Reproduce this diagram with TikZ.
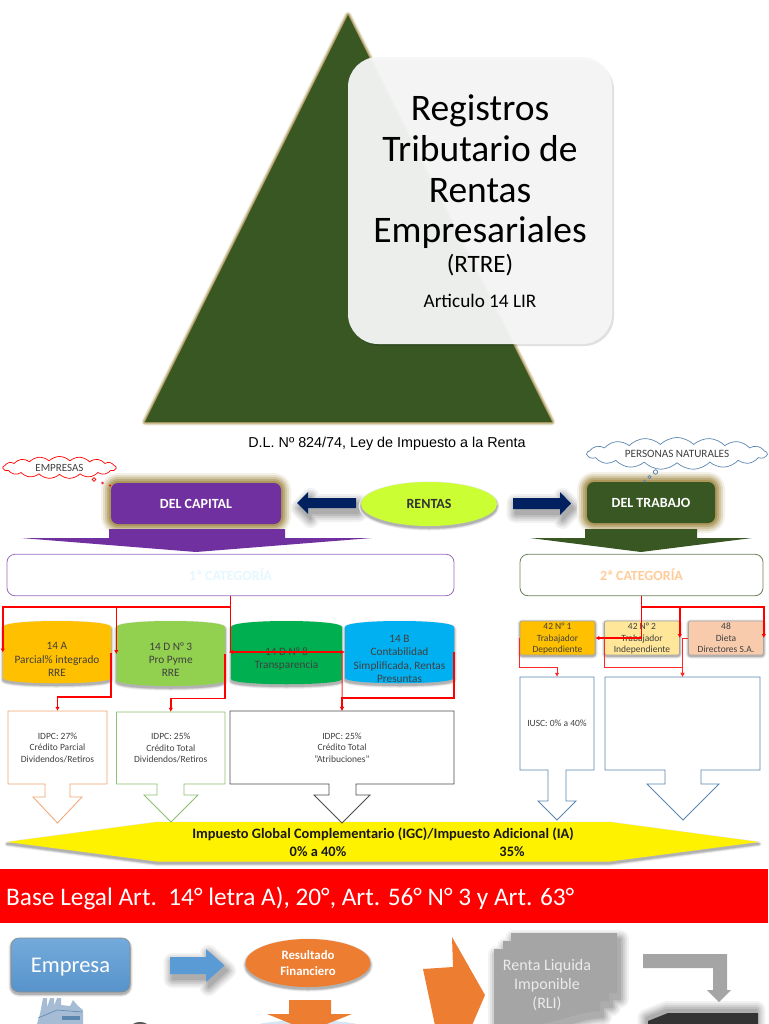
\documentclass[tikz,border=0pt]{standalone}
\usepackage{fontspec}
\setmainfont{Carlito}
\newfontfamily\arialfont{Liberation Sans}
\usepackage{xcolor}
\usetikzlibrary{calc,shapes.geometric,shapes.symbols,arrows.meta}

\definecolor{verdeosc}{HTML}{385723}
\definecolor{oro}{HTML}{A38C48}
\definecolor{morado}{HTML}{7030A0}
\definecolor{azulosc}{HTML}{002060}
\definecolor{lima}{HTML}{CCFF33}
\definecolor{azulbox}{HTML}{5B86B0}
\definecolor{azulsol}{HTML}{5B9BD5}
\definecolor{naranja}{HTML}{ED7D31}
\definecolor{gris}{HTML}{A5A5A5}
\definecolor{texto}{HTML}{404040}

\newcommand{\fs}[2]{\fontsize{#1}{#2}\selectfont}

\tikzset{
    softshadow/.style={
        preaction={draw=black!5,fill=black!5,line join=round,line width=18,transform canvas={shift={(#1/2,#1)}}},
        preaction={draw=black!11,fill=black!11,line join=round,line width=14,transform canvas={shift={(#1/2,#1)}}},
        preaction={draw=black!18,fill=black!18,line join=round,line width=10,transform canvas={shift={(#1/2,#1)}}},
        preaction={draw=black!25,fill=black!25,line join=round,line width=6,transform canvas={shift={(#1/2,#1)}}},
        preaction={draw=black!32,fill=black!32,line join=round,line width=2,transform canvas={shift={(#1/2,#1)}}}},
    softshadow/.default=5,
    lowshadow/.style={
        preaction={draw=black!8,fill=black!8,line join=round,line width=5,transform canvas={shift={(0,#1)}}},
        preaction={draw=black!18,fill=black!18,line join=round,line width=3,transform canvas={shift={(0,#1)}}},
        preaction={draw=black!30,fill=black!30,line join=round,line width=1.5,transform canvas={shift={(0,#1)}}}},
    lowshadow/.default=2,
    glow/.style={
        preaction={draw=oro!12,line join=round,line width=#1*20},
        preaction={draw=oro!30,line join=round,line width=#1*16},
        preaction={draw=oro!50,line join=round,line width=#1*12},
        preaction={draw=oro!72,line join=round,line width=#1*8},
        preaction={draw=oro!90,line join=round,line width=#1*4}},
    redline/.style={draw=red,line width=1.6,-{Latex[length=4pt,width=4.5pt]}},
    redthin/.style={draw=red!85!white,line width=1,-{Latex[length=4pt,width=4.5pt]}},
    bodytext/.style={text=texto,align=center,inner sep=0pt},
    barreltext/.style={bodytext,font=\fs{11.3}{13.3}},
    smalltext/.style={bodytext,font=\fs{9.5}{11.4},text depth=0pt},
    tinybox/.style={bodytext,font=\fs{9.5}{11.7},text depth=0pt,minimum width=75,minimum height=34,rounded corners=2,
        draw=black!35,line width=.6,lowshadow=1},
    headbox/.style={rounded corners=7,minimum width=#1,minimum height=41,text=white,inner sep=0pt,
        font=\bfseries\fs{14}{16}},
    catbox/.style={rounded corners=8,fill=white,line width=.8,minimum height=41.5,inner sep=0pt,
        font=\bfseries\fs{14}{16}},
    ghost/.style={inner sep=0pt,align=center},
    thought/.style={shape=cloud,cloud puffs=17,cloud puff arc=90,cloud ignores aspect,fill=white,
        text=texto,inner sep=0pt,line width=.7}
}

\begin{document}
\begin{tikzpicture}[x=1pt,y=-1pt]
    \useasboundingbox (0,0) rectangle (768,1024);
    \clip (0,0) rectangle (768,1024);

    % Triangle and title card
    \fill[verdeosc,glow=.35] (348,15) -- (552,422) -- (145,422) -- cycle;
    \fill[black,opacity=.12,rounded corners=30] (350,60) rectangle (614,346);
    \node[fill={rgb,255:red,246;green,247;blue,247},fill opacity=.95,minimum width=264,minimum height=287,
        rounded corners=30] (card) at (480,200.5) {};
    \node[ghost,font=\fs{37.5}{40.6}] (titulo) at (480,172) {Registros\\Tributario de\\Rentas\\Empresariales};
    \node[ghost,font=\fs{25}{28}] (rtre) at (480,265) {(RTRE)};
    \node[ghost,font=\fs{19.2}{22}] (articulo) at (480,301) {Articulo 14 LIR};
    \node[ghost,font=\arialfont\fs{14.35}{17}] (ley) at (387,444) {D.L. Nº 824/74, Ley de Impuesto a la Renta};

    % Top row
    \fill[azulosc,softshadow] (297,503) -- (308,492) -- (308,498) -- (356,498) -- (356,508) -- (308,508) -- (308,514) -- cycle;
    \fill[azulosc,softshadow] (571,503.5) -- (560,492) -- (560,498) -- (513,498) -- (513,509) -- (560,509) -- (560,515) -- cycle;
    \node[headbox=170,fill=morado,glow=1] (capital) at (196,503.5) {DEL CAPITAL};
    \node[headbox=128,fill=verdeosc,glow=1] (trabajo) at (651,502.5) {DEL TRABAJO};
    \fill[morado] (109,529) -- (285,529) -- (285,538) -- (372,538) -- (196,552) -- (21,538) -- (109,538) -- cycle;
    \fill[verdeosc] (585,529) -- (697,529) -- (697,538) -- (752,538) -- (641,552) -- (530,538) -- (585,538) -- cycle;
    \node[ellipse,fill=lima,minimum width=136,minimum height=44,inner sep=0pt,lowshadow=2,
        font=\bfseries\fs{14}{16},text=black!80] (rentas) at (429,504) {RENTAS};

    % Thought clouds
    \node[thought,draw=red,minimum width=113,minimum height=22,font=\fs{11}{13}] (empresas) at (59.5,467.5) {EMPRESAS\hspace{9pt}};
    \draw[red,line width=.7] (94,479.5) circle (1.8);
    \draw[red,line width=.6] (102.5,483) circle (1);
    \draw[red,line width=.6] (110,485.5) circle (.6);
    \node[thought,draw=azulbox,minimum width=180,minimum height=32,font=\fs{11.2}{13}] (personas) at (677,453.5) {PERSONAS NATURALES\hspace{12pt}};
    \draw[azulbox,line width=.8] (655.5,472) circle (2.2);
    \draw[azulbox,line width=.8] (649.5,477) circle (1.6);
    \draw[azulbox,line width=.8] (644.5,481) circle (.8);

    % Categories
    \node[catbox,draw=morado!70!white,minimum width=447,text=blue!30!cyan!10!white] (cat1) at (230.5,575) {1ª CATEGORÍA};
    \node[catbox,draw=verdeosc!75!white,minimum width=243,text=orange!40!white] (cat2) at (641.5,575) {2ª CATEGORÍA};

    % Barrels
    \fill[lowshadow=2,color={rgb,255:red,255;green,192;blue,0}] (3,627) .. controls (3,619) and (111,619) .. (111,627) -- (111,678) .. controls (111,685) and (3,685) .. (3,678) -- cycle;
    \fill[lowshadow=2,color={rgb,255:red,146;green,208;blue,80}] (116.5,627) .. controls (116.5,619) and (225,619) .. (225,627) -- (225,680) .. controls (225,688) and (116.5,688) .. (116.5,680) -- cycle;
    \fill[lowshadow=2,color={rgb,255:red,0;green,176;blue,80}] (231,627) .. controls (231,619) and (342,619) .. (342,627) -- (342,679) .. controls (342,686) and (231,686) .. (231,679) -- cycle;
    \fill[lowshadow=2,color={rgb,255:red,0;green,176;blue,240}] (345,627) .. controls (345,619) and (454,619) .. (454,627) -- (454,678) .. controls (454,685) and (345,685) .. (345,678) -- cycle;
    \node[barreltext,minimum width=108,minimum height=61] (cA) at (57,652.5) {\mbox{}\\[8pt]14 A\\Parcial\% integrado\\RRE};
    \node[barreltext,minimum width=108.5,minimum height=64] (cB) at (170.75,654) {\mbox{}\\[6pt]14 D N° 3\\Pro Pyme\\RRE};
    \node[barreltext,minimum width=111,minimum height=62] (cC) at (286.5,652) {\mbox{}\\[9pt]14 D N° 8\\Transparencia};
    \node[barreltext,minimum width=109,minimum height=62] (cD) at (399.5,652) {\mbox{}\\[8pt]14 B\\Contabilidad\\Simplificada, Rentas\\Presuntas};

    % Tax banner
    \fill[yellow,lowshadow=2] (7,842) -- (157,822) -- (610,822) -- (759,842) -- (610,861.5) -- (157,861.5) -- cycle;
    \node[ghost,font=\bfseries\fs{14.4}{16},text=black!90] (igc) at (383,834.5) {Impuesto Global Complementario (IGC)/Impuesto Adicional (IA)};
    \node[ghost,font=\bfseries\fs{14.4}{16},text=black!90] (igcpct) at (318,851.5) {0\% a 40\%};
    \node[ghost,font=\bfseries\fs{14.4}{16},text=black!90] (iapct) at (512,851.5) {35\%};

    % Regime boxes with their down arrows
    \draw[fill=white,draw={rgb,255:red,242;green,163;blue,111},line width=.8] (8,711) -- (107,711) -- (107,784) -- (70,784) -- (70,797) -- (82,797) -- (57.5,823) -- (33,797) -- (45,797) -- (45,784) -- (8,784) -- cycle;
    \draw[fill=white,draw={rgb,255:red,141;green,191;blue,110},line width=.8] (116.5,712) -- (225,712) -- (225,784) -- (184,784) -- (184,795) -- (198,795) -- (171,822) -- (144,795) -- (157,795) -- (157,784) -- (116.5,784) -- cycle;
    \draw[fill=white,draw=black!70,line width=.9] (230,711) -- (454,711) -- (454,784) -- (356,784) -- (356,795) -- (370,795) -- (342,823) -- (314,795) -- (329,795) -- (329,784) -- (230,784) -- cycle;
    \draw[fill=white,draw=azulbox,line width=.8] (520,677) -- (594,677) -- (594,770) -- (566,770) -- (566,801) -- (576,801) -- (557,820) -- (538,801) -- (548,801) -- (548,770) -- (520,770) -- cycle;
    \draw[fill=white,draw=azulbox,line width=.8] (605,677) -- (760,677) -- (760,770) -- (701,770) -- (701,784) -- (719,784) -- (683,820) -- (647,784) -- (665,784) -- (665,770) -- (605,770) -- cycle;
    \node[smalltext,minimum width=99,minimum height=73] (tA) at (57.5,747.5) {IDPC: 27\%\\Crédito Parcial\\Dividendos/Retiros};
    \node[smalltext,minimum width=108.5,minimum height=72] (tB) at (170.75,748) {IDPC: 25\%\\Crédito Total\\Dividendos/Retiros};
    \node[smalltext,minimum width=224,minimum height=73] (tC) at (342,747.5) {IDPC: 25\%\\Crédito Total\\"Atribuciones"};
    \node[smalltext,minimum width=74,minimum height=93] (bN1) at (557,723.5) {IUSC: 0\% a 40\%};
    \node[smalltext,minimum width=155,minimum height=93] (bN2) at (682.5,723.5) {};

    % Work boxes
    \node[tinybox,fill={rgb,255:red,255;green,192;blue,0}] (tN1) at (557.5,638) {42 N° 1\\Trabajador\\Dependiente};
    \node[tinybox,fill={rgb,255:red,255;green,230;blue,153}] (tN2) at (642,638) {42 N° 2\\Trabajador\\Independiente};
    \node[tinybox,fill={rgb,255:red,248;green,203;blue,173}] (tN3) at (726,638) {48\\Dieta\\Directores S.A.};

    % Red connectors, capital side
    \coordinate (busA) at (230.5,607);
    \draw[redline] (cat1.south) -- (busA) -| (cA.west);
    \draw[redline] (busA) -| (cB.west);
    \draw[redline] (busA) |- (cD.west);
    \draw[redline] (cC.west) -- ++(-2,0);
    \draw[redline] (cA.east) -- ++(0,44.5) -| (tA.north);
    \draw[redline] (cB.east) -- ++(0,44.5) -| (tB.north);
    \draw[redthin] (cC.east) -- (tC.north);
    \draw[redline] (cD.east) -- ++(0,46) -| (tC.north);

    % Red connectors, work side
    \coordinate (busB) at (641.5,607);
    \draw[redline] (cat2.south) -- (busB) -| (tN2.east);
    \draw[redline] (busB) -| (tN3.east);
    \draw[redline] (busB) |- (tN1.east);
    \draw[redthin] (tN1.west) -- ++(0,29) -| (bN1.north);
    \draw[redthin] (tN2.west) -- ++(0,29) -| (bN2.north);
    \draw[redthin] (tN3.west) -| (bN2.north);

    % Red band
    \node[fill=red,minimum width=768,minimum height=54,inner sep=0pt] (banda) at (384,896) {};
    \node[anchor=west,inner sep=0pt,text=white,font=\fs{25.3}{28}] (base) at (6,898) {Base Legal Art.\ \ 14° letra A), 20°, Art. 56° N° 3 y Art. 63°};

    % Bottom row
    \node[rounded corners=8,top color=azulsol!85!white,bottom color=azulsol!95!black,draw=black!45,line width=.6,
        minimum width=119,minimum height=54,inner sep=0pt,text=white,font=\fs{22.5}{26},lowshadow=2] (empresa) at (70.5,965) {\raisebox{-7pt}[0pt][0pt]{Empresa}};
    \fill[azulsol,softshadow] (170,957) -- (206,957) -- (206,949) -- (224.5,965.5) -- (206,982) -- (206,974) -- (170,974) -- cycle;
    \node[ellipse,fill=naranja,minimum width=125,minimum height=48,inner sep=0pt,text=white,align=center,
        font=\bfseries\fs{12.8}{15.5},lowshadow=2] (resultado) at (308,963) {Resultado\\Financiero};

    % Factory and what is cut at the page end
    \fill[azulbox!55!white] (40,1014) -- (43,998) -- (47,998) -- (47,1008) -- (50,998) -- (54,998) -- (54,1006) -- (57,998) -- (61,998) -- (61,1005) -- (70,1006) -- (73,1000) -- (78,1006) -- (83,1010) -- (83,1024) -- (37,1024) -- cycle;
    \draw[azulbox,line width=.6] (38,1018) -- (57,1010) -- (82,1012);
    \fill[azulbox] (62,1016) rectangle (80,1020);
    \fill[black!65] (140,1026) ellipse (8 and 4);
    \fill[azulsol!25!white] (308,1032) ellipse (66 and 12);
    \fill[naranja] (289,1000) -- (331,1000) -- (331,1014) -- (352,1014) -- (309,1031) -- (267,1014) -- (289,1014) -- cycle;

    % Taxable income sheets
    \fill[gris,softshadow=6] (511,933) -- (617,933) -- (617,993) -- (609,993) -- (609,1001) -- (600,1001) -- (600,1011) .. controls (570,1012) and (550,1030) .. (494,1026) -- (494,949) -- (503,949) -- (503,941) -- (511,941) -- cycle;
    \node[ghost,text=white!92!black,font=\fs{16}{19}] (rli) at (547,985) {Renta Liquida\\Imponible\\(RLI)};
    \fill[naranja] (423,969) -- (453,967) -- (452,937) -- (485,995) -- (470,1030) -- (436,1030) -- cycle;
    \fill[black!80,softshadow=-3] (648,1021) -- (668,1013) -- (758,1013) -- (758,1030) -- (648,1030) -- cycle;
    \fill[gris] (643,954) -- (727,954) -- (727,990) -- (731,990) -- (719,1002) -- (707,990) -- (713,990) -- (713,968) -- (643,968) -- cycle;
\end{tikzpicture}
\end{document}
